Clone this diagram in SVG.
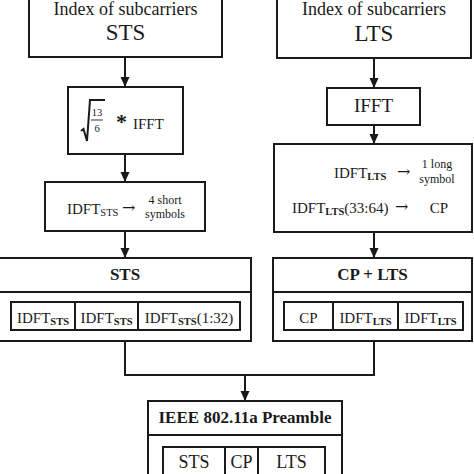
<svg xmlns="http://www.w3.org/2000/svg" width="474" height="474" viewBox="0 0 474 474">
<style>
.box{fill:#fff;stroke:#1a1a1a;stroke-width:2}
.ln{fill:none;stroke:#1a1a1a;stroke-width:2}
text{font-family:"Liberation Serif","Times New Roman",serif;fill:#1a1a1a}
.c{text-anchor:middle}
.b{font-weight:bold}
.arr{font-family:"DejaVu Serif","Liberation Serif",serif;font-size:16px}
</style>
<defs>
<marker id="ah" viewBox="0 0 10 10" refX="10" refY="5" markerWidth="10" markerHeight="10" markerUnits="userSpaceOnUse" orient="auto">
<path d="M0,0.5 L10,5 L0,9.5 Z" fill="#1a1a1a"/>
</marker>
</defs>
<g id="connectors">
<line class="ln" x1="125" y1="57" x2="125" y2="87" marker-end="url(#ah)"/>
<line class="ln" x1="125" y1="154" x2="125" y2="182" marker-end="url(#ah)"/>
<line class="ln" x1="125" y1="231" x2="125" y2="258" marker-end="url(#ah)"/>
<line class="ln" x1="374" y1="58" x2="374" y2="88" marker-end="url(#ah)"/>
<line class="ln" x1="374" y1="125" x2="374" y2="144" marker-end="url(#ah)"/>
<line class="ln" x1="374" y1="232" x2="374" y2="258" marker-end="url(#ah)"/>
<polyline class="ln" points="125,341 125,375 374,375 374,341"/>
<line class="ln" x1="245" y1="375" x2="245" y2="401" marker-end="url(#ah)"/>
</g>
<g id="sts-index">
<rect class="box" x="29" y="-5" width="193" height="62"/>
<text class="c" x="125.5" y="15" font-size="18">Index of subcarriers</text>
<text class="c" x="125.5" y="40" font-size="23">STS</text>
</g>
<g id="lts-index">
<rect class="box" x="277" y="-5" width="194" height="63"/>
<text class="c" x="374" y="15" font-size="18">Index of subcarriers</text>
<text class="c" x="374" y="41" font-size="23">LTS</text>
</g>
<g id="sts-ifft">
<rect class="box" x="68" y="87" width="115" height="67"/>
<path class="ln" d="M81,131 L83.5,129 L87,141 L90,100 L105,100" stroke-width="1.2"/>
<text class="c" x="97" y="116" font-size="10.5">13</text>
<line x1="91" y1="120" x2="103" y2="120" stroke="#1a1a1a" stroke-width="0.9"/>
<text class="c" x="97" y="132" font-size="10.5">6</text>
<text class="c b" x="121.5" y="129" font-size="22">*</text>
<text x="133" y="129" font-size="15">IFFT</text>
</g>
<g id="lts-ifft">
<rect class="box" x="327" y="88" width="93" height="37"/>
<text class="c" x="373.5" y="112" font-size="19">IFFT</text>
</g>
<g id="sts-idft">
<rect class="box" x="45" y="182" width="160" height="49"/>
<text x="67" y="214" font-size="15">IDFT<tspan font-size="10.5" dy="2">STS</tspan></text>
<text class="arr" x="122" y="213">→</text>
<text class="c" x="165" y="204" font-size="12">4 short</text>
<text class="c" x="165" y="218" font-size="12">symbols</text>
</g>
<g id="lts-idft">
<rect class="box" x="274" y="144" width="198" height="88"/>
<text x="334" y="178" font-size="15">IDFT<tspan font-size="10.5" dy="2" font-weight="bold">LTS</tspan></text>
<text class="arr" x="397" y="177">→</text>
<text class="c" x="437" y="168" font-size="12">1 long</text>
<text class="c" x="437" y="183" font-size="12">symbol</text>
<text x="292" y="213" font-size="15">IDFT<tspan font-size="10.5" dy="2" font-weight="bold">LTS</tspan><tspan dy="-2">(33:64)</tspan></text>
<text class="arr" x="395" y="212">→</text>
<text class="c" x="439" y="213" font-size="15">CP</text>
</g>
<g id="sts-frame">
<rect class="box" x="-1" y="258" width="252" height="83"/>
<line class="ln" x1="-1" y1="292" x2="251" y2="292"/>
<text class="c b" x="125" y="280" font-size="17">STS</text>
<rect class="box" x="11" y="302" width="229" height="28"/>
<line class="ln" x1="75" y1="302" x2="75" y2="330"/>
<line class="ln" x1="138" y1="302" x2="138" y2="330"/>
<text class="c" x="43" y="323" font-size="15">IDFT<tspan font-size="10.5" dy="2" font-weight="bold">STS</tspan></text>
<text class="c" x="106.5" y="323" font-size="15">IDFT<tspan font-size="10.5" dy="2" font-weight="bold">STS</tspan></text>
<text class="c" x="189" y="323" font-size="15">IDFT<tspan font-size="10.5" dy="2" font-weight="bold">STS</tspan><tspan dy="-2">(1:32)</tspan></text>
</g>
<g id="lts-frame">
<rect class="box" x="273" y="258" width="199" height="83"/>
<line class="ln" x1="273" y1="292" x2="472" y2="292"/>
<text class="c b" x="372.5" y="280" font-size="17">CP + LTS</text>
<rect class="box" x="284" y="302" width="179" height="28"/>
<line class="ln" x1="333" y1="302" x2="333" y2="330"/>
<line class="ln" x1="398" y1="302" x2="398" y2="330"/>
<text class="c" x="308.5" y="323" font-size="15">CP</text>
<text class="c" x="365.5" y="323" font-size="15">IDFT<tspan font-size="10.5" dy="2" font-weight="bold">LTS</tspan></text>
<text class="c" x="430.5" y="323" font-size="15">IDFT<tspan font-size="10.5" dy="2" font-weight="bold">LTS</tspan></text>
</g>
<g id="preamble">
<rect class="box" x="148" y="401" width="194" height="80"/>
<line class="ln" x1="148" y1="435" x2="342" y2="435"/>
<text class="c b" x="245" y="423" font-size="17">IEEE 802.11a Preamble</text>
<rect class="box" x="163" y="447" width="162" height="40"/>
<line class="ln" x1="225" y1="447" x2="225" y2="487"/>
<line class="ln" x1="258" y1="447" x2="258" y2="487"/>
<text class="c" x="194" y="468" font-size="18">STS</text>
<text class="c" x="241.5" y="468" font-size="18">CP</text>
<text class="c" x="291.5" y="468" font-size="18">LTS</text>
</g>
</svg>
